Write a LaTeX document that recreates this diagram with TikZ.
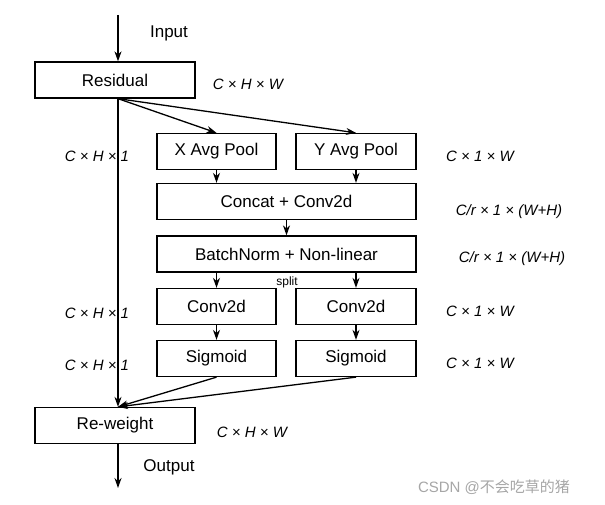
\documentclass[tikz,border=0pt]{standalone}
\usepackage{fontspec}
\setmainfont{Liberation Sans}
\newfontfamily\cjk{Noto Sans CJK SC}
\usetikzlibrary{arrows.meta}
\begin{document}
\begin{tikzpicture}[x=1pt,y=-1pt,line width=1.3pt,
  box/.style={draw,minimum height=36pt,inner sep=0pt,font=\fontsize{17}{19}\selectfont},
  lab/.style={font=\fontsize{15}{17}\selectfont\itshape},
  arr/.style={-{Stealth[length=10pt,width=7pt]}}]
\useasboundingbox (0,0) rectangle (605,505);
% boxes
\node[box,minimum width=160pt] (res) at (115,80) {Residual};
\node[box,minimum width=119pt] (xp) at (216.5,151.5) {X Avg Pool};
\node[box,minimum width=120pt] (yp) at (356,151.5) {Y Avg Pool};
\node[box,minimum width=259pt] (cat) at (286.5,201.5) {Concat + Conv2d};
\node[box,minimum width=259pt] (bn) at (286.5,254) {BatchNorm + Non-linear};
\node[box,minimum width=119pt] (c1) at (216.5,306.5) {Conv2d};
\node[box,minimum width=120pt] (c2) at (356,306.5) {Conv2d};
\node[box,minimum width=119pt] (s1) at (216.5,358.5) {Sigmoid};
\node[box,minimum width=120pt] (s2) at (356,358.5) {Sigmoid};
\node[box,minimum width=160pt] (rw) at (115,425.5) {Re-weight};
\coordinate (in) at (118,15);
\coordinate (out) at (118,488);
% connectors
\draw[arr] (in) -- (res.north -| in);
\draw[arr] (res.south -| in) -- (rw.north -| in);
\draw[arr] (res.south -| in) -- (xp.north);
\draw[arr] (res.south -| in) -- (yp.north);
\draw[arr] (xp) -- (cat.north -| xp);
\draw[arr] (yp) -- (cat.north -| yp);
\draw[arr] (cat.south) -- (bn.north);
\draw[arr] (bn.south -| c1) -- (c1.north);
\draw[arr] (bn.south -| c2) -- (c2.north);
\draw[arr] (c1) -- (s1);
\draw[arr] (c2) -- (s2);
\draw[arr] (s1.south) -- (rw.north -| in);
\draw[arr] (s2.south) -- (rw.north -| in);
\draw[arr] (rw.south -| in) -- (out);
% labels
\node[font=\fontsize{17}{19}\selectfont] (tin) at (169,33) {Input};
\node[font=\fontsize{17}{19}\selectfont] (tout) at (169,467) {Output};
\node[font=\fontsize{12}{14}\selectfont] (sp) at (287,282) {split};
\node[lab] (l1) at (248,84) {C × H × W};
\node[lab] (l2) at (97,156) {C × H × 1};
\node[lab] (l3) at (97,313) {C × H × 1};
\node[lab] (l4) at (97,365) {C × H × 1};
\node[lab] (l5) at (480,156) {C × 1 × W};
\node[lab] (l6) at (480,311) {C × 1 × W};
\node[lab] (l7) at (480,363) {C × 1 × W};
\node[lab] (l8) at (509,212) {C/r × 1 × (W+H)};
\node[lab] (l9) at (512,259) {C/r × 1 × (W+H)};
\node[lab] (l10) at (252,432) {C × H × W};
\node[text=gray!70,font=\fontsize{15}{17}\selectfont] (wm) at (494,487) {CSDN @{\cjk 不会吃草的猪}};
\end{tikzpicture}
\end{document}
